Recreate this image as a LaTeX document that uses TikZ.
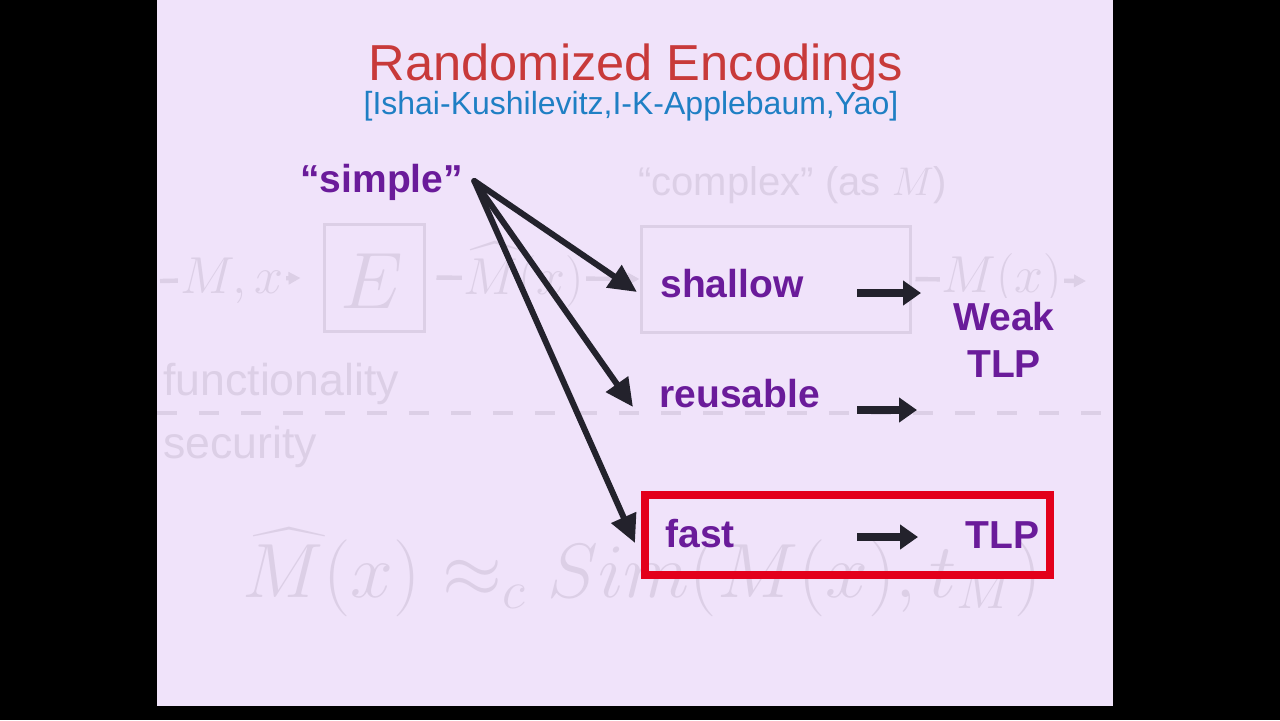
\RequirePackage{fix-cm}
\documentclass[tikz,border=0pt]{standalone}
\usepackage{amsmath}
\usepackage{fontspec}
\setmainfont{Liberation Sans}
\usepackage{tikz}
\usetikzlibrary{arrows.meta,calc,positioning}
\definecolor{slidebg}{HTML}{F0E3FA}
\definecolor{faintc}{HTML}{DCCFE6}
\definecolor{wordc}{HTML}{6A1B9A}
\definecolor{titlec}{HTML}{C83A3A}
\definecolor{citec}{HTML}{1F7FC4}
\definecolor{arrowc}{HTML}{23222C}
\definecolor{boxred}{HTML}{E3001B}
\tikzset{%
	titletext/.style = {anchor=base, inner sep=0, text=titlec, font=\fontsize{25.3}{30}\selectfont},
	citetext/.style  = {anchor=base, inner sep=0, text=citec, font=\fontsize{16}{19}\selectfont},
	word/.style      = {anchor=base west, inner sep=0, text=wordc, font=\fontsize{19.5}{23.5}\selectfont\bfseries},
	fainttext/.style = {anchor=base west, inner sep=0, text=faintc, font=\fontsize{22.3}{26}\selectfont},
	faintmath/.style = {anchor=base, inner sep=1pt, text=faintc, fill=slidebg, font=\fontsize{26}{30}\selectfont},
	faintbox/.style  = {draw=faintc, line width=1.5pt, rectangle},
	faintline/.style = {draw=faintc, line width=2.2pt},
	faintarrow/.style= {faintline, -{Triangle[length=6pt,width=6pt]}},
	faintdash/.style = {draw=faintc, line width=2pt, dash pattern=on 10pt off 11pt},
	longarrow/.style = {draw=arrowc, line width=3pt, line cap=round, -{Triangle[length=14pt,width=13pt]}},
	shortarrow/.style= {draw=arrowc, line width=4pt, -{Triangle[length=9pt,width=12pt]}},
	redbox/.style    = {draw=boxred, line width=4pt, rectangle},
}
\begin{document}
\begin{tikzpicture}[x=0.5pt,y=-0.5pt]
	\fill[black] (0,0) rectangle (1280,720);
	\fill[slidebg] (157,0) rectangle (1113,706);
	% title
	\node[titletext] (title) at (636,80) {Randomized Encodings};
	\node[citetext] (cite) at (631,114) {[Ishai-Kushilevitz,I-K-Applebaum,Yao]};
	% faint layer behind
	\draw[faintdash] (157,413) -- (1112,413);
	\node[fainttext] (func) at (163,395) {functionality};
	\node[fainttext] (secu) at (163,458) {security};
	\node[fainttext, font=\fontsize{20}{24}\selectfont] (complex) at (638,195) {“complex” (as $M$)};
	\node[faintbox, minimum width=50pt, minimum height=53.5pt] (Ebox) at (374,277.5) {};
	\node[faintbox, minimum width=134.5pt, minimum height=53pt] (shbox) at (775.5,279) {};
	\node[anchor=center, inner sep=0, text=faintc, font=\fontsize{40}{44}\selectfont] (E) at (372,281) {$E$};
	\coordinate (inleft) at (160,281);
	\coordinate (outright) at (1086,281);
	\draw[faintarrow, shorten >=11pt] (inleft) -- (Ebox.west);
	\draw[faintarrow, shorten <=5.5pt] (Ebox.east) -- (shbox.west);
	\draw[faintarrow, shorten <=2pt] (shbox.east) -- (outright);
	\node[faintmath] (Min) at (232,293) {$M,x$};
	\node[faintmath] (Mhat) at (524,294) {$\widehat{M}(x)$};
	\node[faintmath] (Mout) at (1002,292) {$M(x)$};
	\node[anchor=base, inner sep=0, text=faintc, font=\fontsize{38.5}{42}\selectfont] (sim) at (642,597) {$\widehat{M}(x)\approx_{c} Sim(M(x),t_M)$};
	% words
	\node[word] (simple) at (300,192) {“simple”};
	\node[word] (shallow) at (660,297) {shallow};
	\node[word] (reusable) at (659,407) {reusable};
	\node[redbox, minimum width=202.5pt, minimum height=40pt] (fastbox) at (847.5,535) {};
	\node[word] (fast) at (665,547) {fast};
	\node[word, anchor=center, align=center, fill=slidebg, inner sep=2pt] (weak) at (1004,340) {Weak\\TLP};
	\node[word] (tlp) at (965,548) {TLP};
	% arrows
	\coordinate (src) at ([shift={(11,-11)}]simple.base east);
	\draw[longarrow] (src) -- ([shift={(-23,-5)}]shallow.base west);
	\draw[longarrow] (src) -- ([shift={(-26,0)}]reusable.base west);
	\draw[longarrow] (src) -- ([shift={(-30,-4)}]fast.base west);
	\coordinate (s1) at (857,293);
	\coordinate (t1) at (921,293);
	\coordinate (s2) at (857,410);
	\coordinate (t2) at (917,410);
	\coordinate (s3) at (857,537);
	\coordinate (t3) at (918,537);
	\draw[shortarrow] (s1) -- (t1);
	\draw[shortarrow] (s2) -- (t2);
	\draw[shortarrow] (s3) -- (t3);
\end{tikzpicture}
\end{document}
